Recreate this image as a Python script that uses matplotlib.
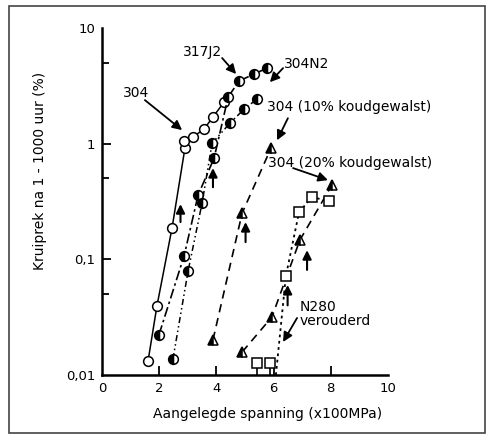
import matplotlib
matplotlib.use("Agg")
import matplotlib.pyplot as plt
from matplotlib.patches import Rectangle
from matplotlib.ticker import FixedLocator, NullFormatter

plt.rcParams['font.family'] = ['DejaVu Sans']

# ---- axis ticks / labels ----
x_ticks = [0, 2, 4, 6, 8, 10]
x_ticklabels = ['0', '2', '4', '6', '8', '10']
y_ticks = [0.01, 0.1, 1, 10]
y_ticklabels = ['0,01', '0,1', '1', '10']
y_minor = [0.05, 0.5, 5]
x_label = 'Aangelegde spanning (x100MPa)'
y_label = 'Kruiprek na 1 - 1000 uur (%)'

# ---- series ----
x_304 = [1.61, 1.92, 2.45, 2.90, 2.87, 3.18, 3.57, 3.88, 4.27]
y_304 = [0.0132, 0.0394, 0.187, 0.916, 1.05, 1.14, 1.34, 1.70, 2.29]

x_317 = [1.99, 2.87, 3.36, 3.92, 4.41, 4.79, 5.32, 5.77]
y_317 = [0.0222, 0.107, 0.359, 0.751, 2.53, 3.48, 4.0, 4.5]

x_n2 = [2.48, 3.01, 3.50, 3.85, 4.48, 4.97, 5.42]
y_n2 = [0.0137, 0.0792, 0.307, 1.01, 1.51, 1.99, 2.43]

x_10 = [3.88, 4.90, 5.91]
y_10 = [0.0201, 0.251, 0.916]

x_20 = [4.90, 5.94, 6.92, 8.04]
y_20 = [0.0158, 0.0317, 0.147, 0.439]

x_n280 = [5.42, 5.87, 6.43, 6.89, 7.34, 7.94]
y_n280 = [0.0127, 0.0127, 0.0718, 0.256, 0.345, 0.319]
x_n280_line = [6.08, 6.43, 6.89, 7.34, 7.94]
y_n280_line = [0.01, 0.0718, 0.256, 0.345, 0.319]

# "still running" up arrows: x, from y, to y
up_x = [2.745, 3.88, 5.02, 7.17, 6.49]
up_y0 = [0.21, 0.42, 0.141, 0.081, 0.040]
up_y1 = [0.30, 0.615, 0.21, 0.12, 0.060]

# labels: text, text position, alignment, arrow start, arrow tip
labels = [
    ('317J2', (3.50, 6.19), 'center', (4.20, 5.5), (4.69, 4.0)),
    ('304', (1.19, 2.73), 'center', (1.50, 2.38), (2.80, 1.31)),
    ('304N2', (7.17, 4.87), 'center', (6.33, 4.5), (5.87, 3.40)),
    ('304 (10% koudgewalst)', (5.77, 2.07), 'left', (6.50, 1.66), (6.12, 1.07)),
    ('304 (20% koudgewalst)', (5.80, 0.68), 'left', (6.68, 0.615), (7.90, 0.484)),
    ('N280\nverouderd', (6.92, 0.0337), 'left', (6.82, 0.0311), (6.33, 0.0193)),
]

fig = plt.figure(figsize=(5, 4.43), dpi=100)
ax = fig.add_axes([0.204, 0.1535, 0.572, 0.7833])
ax.set_xlim(0, 10)
ax.set_yscale('log')
ax.set_ylim(0.01, 10)

for s in ['top', 'right']:
    ax.spines[s].set_visible(False)
for s in ['left', 'bottom']:
    ax.spines[s].set_linewidth(1.8)

ax.set_xticks(x_ticks)
ax.set_xticklabels(x_ticklabels)
ax.set_yticks(y_ticks)
ax.set_yticklabels(y_ticklabels)
ax.yaxis.set_minor_locator(FixedLocator(y_minor))
ax.yaxis.set_minor_formatter(NullFormatter())
ax.xaxis.set_minor_locator(FixedLocator([]))
ax.tick_params(which='major', direction='in', length=6.5, width=1.3, labelsize=9.5, pad=5)
ax.tick_params(which='minor', direction='in', length=5, width=1.3)
for t, v in zip(ax.xaxis.get_major_ticks(), x_ticks):
    if v in (0, 10):
        t.tick1line.set_visible(False)
for t, v in zip(ax.yaxis.get_major_ticks(), y_ticks):
    if v in (0.01, 10):
        t.tick1line.set_visible(False)

k = dict(color='black', clip_on=False)
half = dict(fillstyle='left', markerfacecolor='black', markerfacecoloralt='white',
            markeredgecolor='black', markeredgewidth=1.1)

ax.plot(x_304, y_304, '-', lw=1.1, marker='o', ms=7, mfc='white', mec='black', mew=1.1, **k)
ax.plot(x_317, y_317, lw=1.2, dashes=(6, 2, 1.5, 2), marker='o', ms=7, **half, **k)
ax.plot(x_n2, y_n2, lw=1.1, dashes=(4, 2, 1, 2, 1, 2), marker='o', ms=7, **half, **k)
ax.plot(x_10, y_10, lw=1.2, dashes=(5, 3.5), marker='^', ms=7.5, **half, **k)
ax.plot(x_20, y_20, lw=1.2, dashes=(5, 3.5), marker='^', ms=7.5, **half, **k)
ax.plot(x_n280_line, y_n280_line, lw=1.3, dashes=(1.5, 2), color='black', clip_on=False)
ax.vlines(x_n280[:2], 0.01, y_n280[:2], colors='black', lw=1.2)
ax.plot(x_n280, y_n280, ls='none', marker='s', ms=7, mfc='white', mec='black', mew=1.1, **k)

for x, a, b in zip(up_x, up_y0, up_y1):
    ax.annotate('', xy=(x, b), xytext=(x, a),
                arrowprops=dict(arrowstyle='-|>', color='black', lw=1.5,
                                mutation_scale=13, shrinkA=0, shrinkB=0))

for txt, pos, ha, a0, a1 in labels:
    ax.text(pos[0], pos[1], txt, fontsize=10, ha=ha, va='center', linespacing=0.95)
    ax.annotate('', xy=a1, xytext=a0,
                arrowprops=dict(arrowstyle='-|>', color='black', lw=1.3,
                                mutation_scale=14, shrinkA=0, shrinkB=0))

fig.text(0.535, 0.0655, x_label, fontsize=10, ha='center', va='center')
fig.text(0.08, 0.614, y_label, fontsize=10, ha='center', va='center', rotation=90)

fig.add_artist(Rectangle((0.018, 0.0226), 0.952, 0.964, transform=fig.transFigure,
                         fill=False, lw=1.2, ec='#444444'))

fig.savefig('out.png', dpi=100)
